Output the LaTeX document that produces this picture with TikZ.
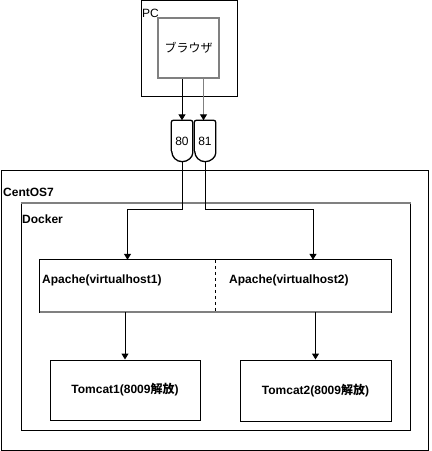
\documentclass[tikz,border=0pt]{standalone}
\usepackage{fontspec}
\setmainfont{Liberation Sans}
\newfontfamily\jp{Noto Sans CJK JP}
\usetikzlibrary{arrows.meta}
\definecolor{edgegray}{HTML}{808080}

\begin{document}
\begin{tikzpicture}[x=1pt,y=-1pt, inner sep=0pt,
		font=\fontsize{12}{14}\selectfont,
		frame/.style={draw, line width=1pt},
		greyedge/.style={draw=edgegray, line width=2pt},
		conn/.style={line width=1pt, -{Triangle[width=7pt,length=6pt,color=black]}},
		lbl/.style={anchor=west, font=\fontsize{12}{14}\selectfont\bfseries}]
		\useasboundingbox (0,0) rectangle (432,451);
		\node [frame, minimum width=427pt, minimum height=280pt] (centos) at (214.5,310) {};
		\node [lbl] (centostxt) at (3,192) {CentOS7};
		\node [frame, minimum width=389pt, minimum height=227pt] (docker) at (215.5,316.5) {};
		\draw [greyedge] (docker.north west) -- (docker.north east);
		\node [lbl] (dockertxt) at (22,219) {Docker};
		\node [frame, minimum width=96pt, minimum height=95.5pt] (pc) at (189,48.25) {};
		\node [anchor=west] (pctxt) at (142,13) {PC};
		\node [greyedge, minimum width=61pt, minimum height=60pt] (browser) at (188.5,48) {\jp ブラウザ};
		\node [minimum width=21pt, minimum height=41pt] (p80) at (182,141) {80};
		\node [minimum width=21pt, minimum height=41pt] (p81) at (205,141) {81};
		\foreach \p in {p80,p81}
		\draw [line width=1.3pt, rounded corners=2pt]
		([yshift=10.5pt]\p.south west) -- (\p.north west) -- (\p.north east)
		-- ([yshift=10.5pt]\p.south east) arc [start angle=0, end angle=-180, radius=10.5pt];
		\node [minimum width=175pt, minimum height=52pt] (ap1) at (127.5,286) {};
		\node [minimum width=176pt, minimum height=52pt] (ap2) at (303,286) {};
		\draw [frame] (ap1.north west) rectangle (ap2.south east);
		\draw [dashed] (ap1.north east) -- (ap1.south east);
		\draw [greyedge] (ap1.south west) -- (ap2.south east);
		\node [lbl] (ap1txt) at (42,280) {Apache(virtualhost1)};
		\node [lbl] (ap2txt) at (229,280) {Apache(virtualhost2)};
		\node [frame, font=\fontsize{12}{14}\selectfont\bfseries, minimum width=150pt, minimum height=60pt] (t1) at (125,390) {Tomcat1(8009{\jp 解放})};
		\node [frame, font=\fontsize{12}{14}\selectfont\bfseries, minimum width=151pt, minimum height=61pt] (t2) at (315.5,390.5) {Tomcat2(8009{\jp 解放})};
		\draw [conn] (browser.south -| p80) -- (p80.north);
		\draw [conn, draw=edgegray] ([xshift=-1.5pt]browser.south -| p81) -- ([xshift=-1.5pt]p81.north);
		\draw [conn] (p80.south) -- ++(0,48) -| (ap1.north);
		\draw [conn] (p81.south) -- ++(0,48) -| ([xshift=10pt]ap2.north);
		\draw [conn] (t1.north |- ap1.south) -- (t1.north);
		\draw [conn] (t2.north |- ap2.south) -- (t2.north);
	\end{tikzpicture}
\end{document}
